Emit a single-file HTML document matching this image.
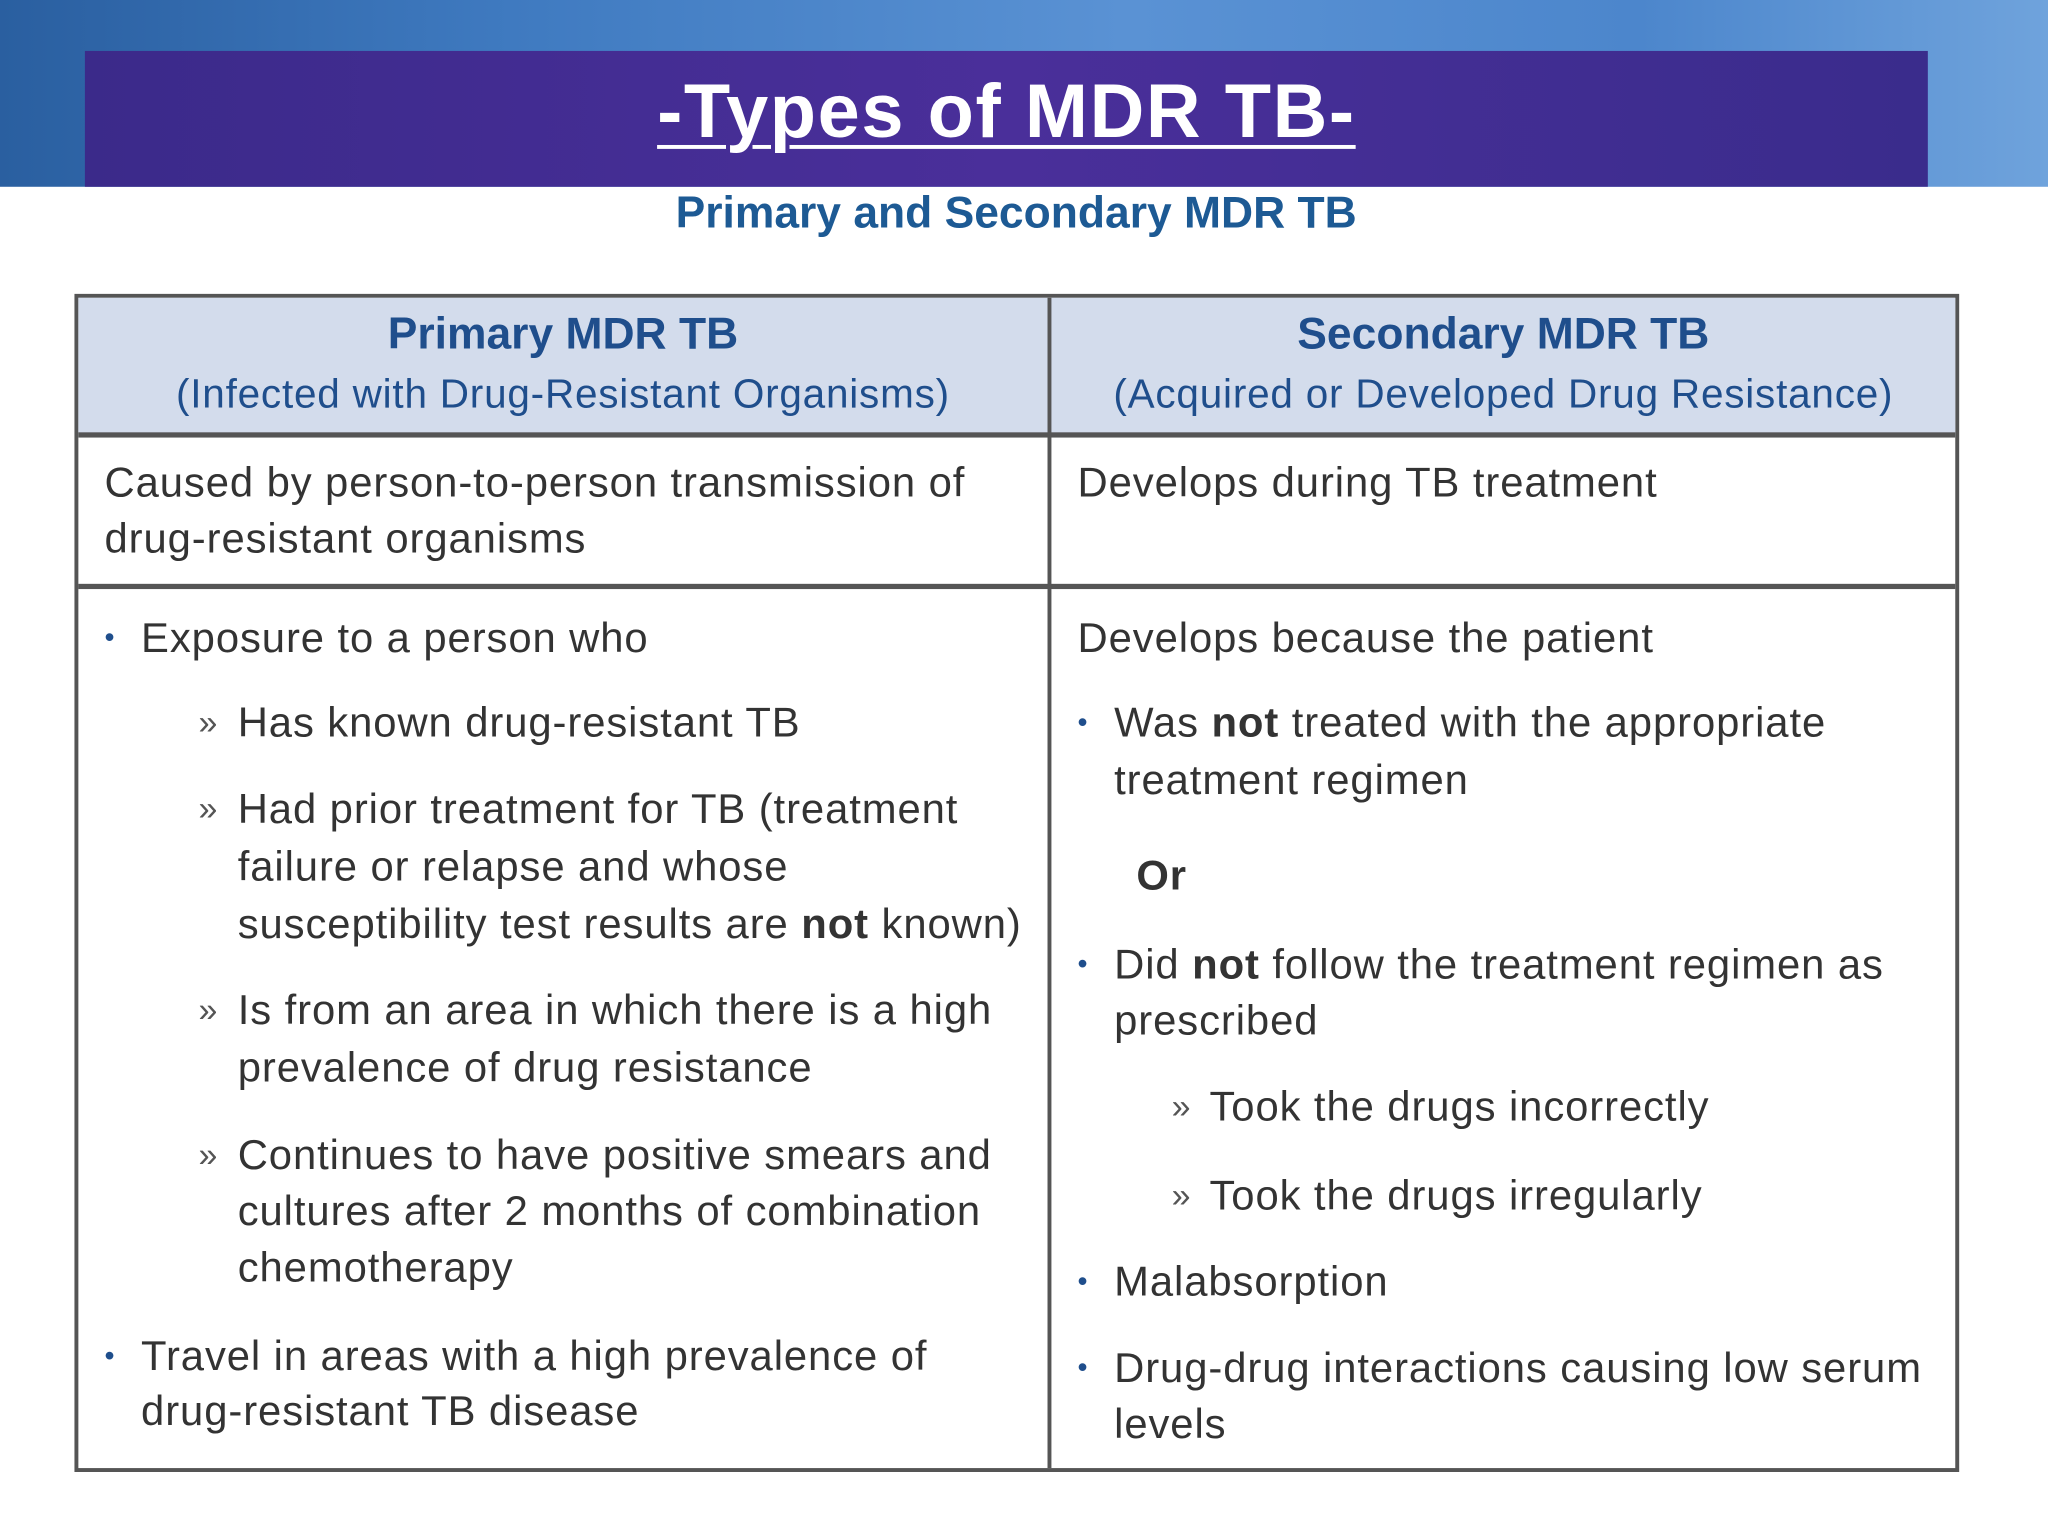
<!DOCTYPE html>
<html><head><meta charset="utf-8"><style>
html,body{margin:0;padding:0;background:#fff;overflow:hidden}
body{width:2048px;height:1536px;position:relative}
#s{position:absolute;left:0;top:0;width:1568px;height:1176px;transform:scale(1.30612);transform-origin:0 0;font-family:"Liberation Sans",sans-serif}
.hdr{position:absolute;left:0;top:0;width:1568px;height:143px;background:linear-gradient(90deg,#2a5fa0 0%,#3f7ac0 25%,#5a92d4 55%,#4c86cc 80%,#6fa3dc 100%)}
.pur{position:absolute;left:65px;top:39px;width:1411px;height:104px;background:linear-gradient(90deg,#3b2a8a,#4a2f9a 50%,#3a2c8c)}
.title{position:absolute;left:65px;width:1411px;top:52px;text-align:center;color:#fff;font-weight:bold;font-size:58px;letter-spacing:1.2px;text-decoration:underline;text-decoration-thickness:3px;text-underline-offset:6px}
.sub{position:absolute;left:0;width:1556px;top:144px;text-align:center;color:#1d5a94;font-size:34px;font-weight:bold;letter-spacing:0px}
.tbl{position:absolute;left:57px;top:225px;width:1437px;height:896px;border:3px solid #555}
.hrow{position:absolute;left:0;top:0;width:1437px;height:103px;background:#d3dcec;border-bottom:4px solid #555}
.r2{position:absolute;left:0;top:219px;width:1437px;height:4px;background:#555}
.vd{position:absolute;left:742px;top:0;width:3px;height:896px;background:#555}
.ht{position:absolute;text-align:center;color:#1f4e8c;font-size:34px;font-weight:bold;letter-spacing:0px}
.hs{position:absolute;text-align:center;color:#1f4e8c;font-size:31px;letter-spacing:0.6px}
.t{position:absolute;font-size:32px;color:#333;line-height:40px;white-space:nowrap;letter-spacing:0.7px}
.b{position:absolute;font-size:22px;color:#1f4e8c;line-height:40px}
.r{position:absolute;font-size:26px;color:#555;line-height:40px}
</style></head><body>
<div id="s">
<div class="hdr"></div>
<div class="pur"></div>
<div class="title">-Types of MDR TB-</div>
<div class="sub">Primary and Secondary MDR TB</div>
<div class="tbl">
<div class="hrow"></div>
<div class="r2"></div>
<div class="vd"></div>
</div>
<div class="ht" style="left:60px;width:742px;top:237px">Primary MDR TB</div>
<div class="hs" style="left:60px;width:742px;top:284px">(Infected with Drug-Resistant Organisms)</div>
<div class="ht" style="left:805px;width:692px;top:237px">Secondary MDR TB</div>
<div class="hs" style="left:805px;width:692px;top:284px">(Acquired or Developed Drug Resistance)</div>

<div class="t" style="left:80px;top:349px">Caused by person-to-person transmission of</div>
<div class="t" style="left:80px;top:392px">drug-resistant organisms</div>
<div class="b" style="left:80px;top:468px">•</div>
<div class="t" style="left:108px;top:468px">Exposure to a person who</div>
<div class="r" style="left:152px;top:533px">»</div>
<div class="t" style="left:182px;top:533px">Has known drug-resistant TB</div>
<div class="r" style="left:152px;top:599px">»</div>
<div class="t" style="left:182px;top:599px">Had prior treatment for TB (treatment</div>
<div class="t" style="left:182px;top:643px">failure or relapse and whose</div>
<div class="t" style="left:182px;top:687px">susceptibility test results are <b>not</b> known)</div>
<div class="r" style="left:152px;top:753px">»</div>
<div class="t" style="left:182px;top:753px">Is from an area in which there is a high</div>
<div class="t" style="left:182px;top:797px">prevalence of drug resistance</div>
<div class="r" style="left:152px;top:864px">»</div>
<div class="t" style="left:182px;top:864px">Continues to have positive smears and</div>
<div class="t" style="left:182px;top:907px">cultures after 2 months of combination</div>
<div class="t" style="left:182px;top:950px">chemotherapy</div>
<div class="b" style="left:80px;top:1018px">•</div>
<div class="t" style="left:108px;top:1018px">Travel in areas with a high prevalence of</div>
<div class="t" style="left:108px;top:1060px">drug-resistant TB disease</div>

<div class="t" style="left:825px;top:349px">Develops during TB treatment</div>
<div class="t" style="left:825px;top:468px">Develops because the patient</div>
<div class="b" style="left:825px;top:533px">•</div>
<div class="t" style="left:853px;top:533px">Was <b>not</b> treated with the appropriate</div>
<div class="t" style="left:853px;top:577px">treatment regimen</div>
<div class="t" style="left:870px;top:650px;font-weight:bold">Or</div>
<div class="b" style="left:825px;top:718px">•</div>
<div class="t" style="left:853px;top:718px">Did <b>not</b> follow the treatment regimen as</div>
<div class="t" style="left:853px;top:761px">prescribed</div>
<div class="r" style="left:897px;top:827px">»</div>
<div class="t" style="left:926px;top:827px">Took the drugs incorrectly</div>
<div class="r" style="left:897px;top:895px">»</div>
<div class="t" style="left:926px;top:895px">Took the drugs irregularly</div>
<div class="b" style="left:825px;top:961px">•</div>
<div class="t" style="left:853px;top:961px">Malabsorption</div>
<div class="b" style="left:825px;top:1027px">•</div>
<div class="t" style="left:853px;top:1027px">Drug-drug interactions causing low serum</div>
<div class="t" style="left:853px;top:1070px">levels</div>
</div>
</body></html>
